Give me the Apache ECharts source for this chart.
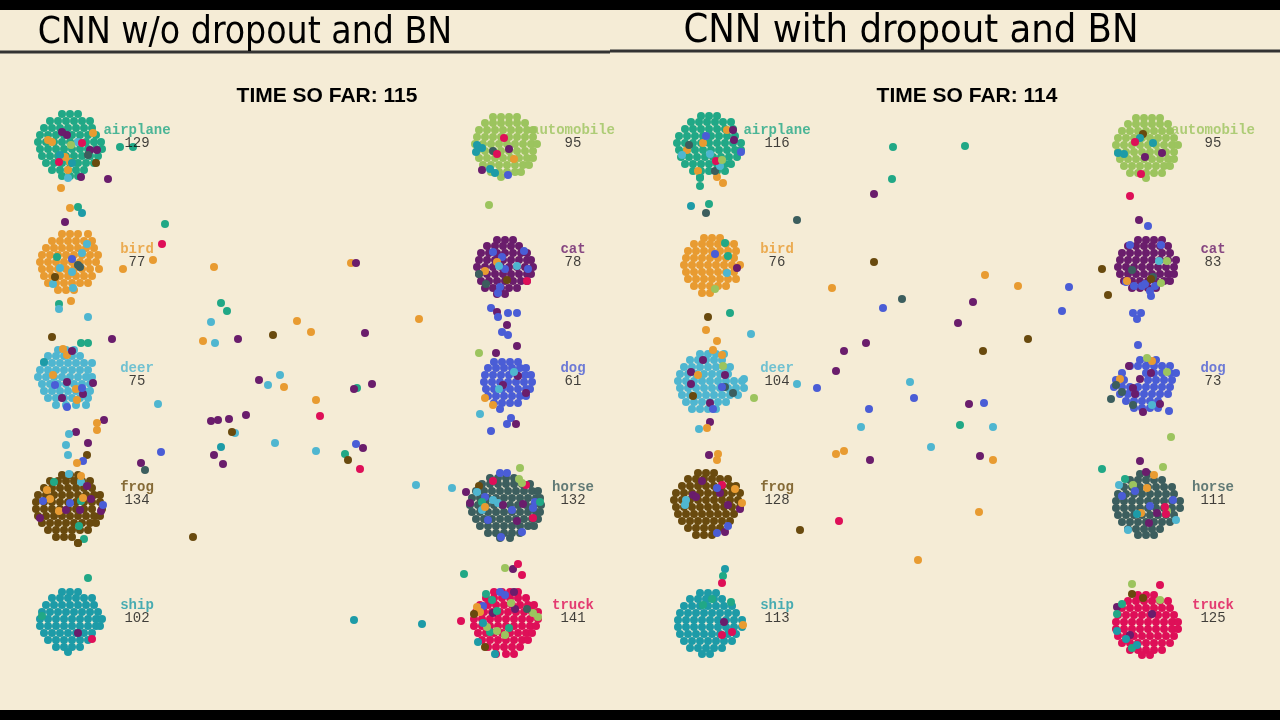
<!DOCTYPE html>
<html>
<head>
<meta charset="utf-8">
<script src="https://cdn.jsdelivr.net/npm/echarts@6/dist/echarts.min.js"></script>
<style>
  html, body { margin: 0; padding: 0; background: #F5ECD6; }
  #chart { width: 1280px; height: 720px; }
</style>
</head>
<body>
<div id="chart"></div>
<script>
// classes and colours
const classes = ['airplane', 'automobile', 'bird', 'cat', 'deer', 'dog', 'frog', 'horse', 'ship', 'truck']
const classColors = ['#21A886', '#9CC45E', '#E89B31', '#6A1D6C', '#4FB6D0', '#4A5DD6', '#694A0E', '#3C5E5E', '#1D9BA7', '#DE0F58']

const panelTitles = ['CNN w/o dropout and BN', 'CNN with dropout and BN']
const timeSoFar = [115, 114]
const countsLeft = [129, 95, 77, 78, 75, 61, 134, 132, 102, 141]
const countsRight = [116, 95, 76, 83, 104, 73, 128, 111, 113, 125]

// cluster cores, one string per class: "y:x x x|y:x x ..."
const coreLeft = [
  '114:62 70 78|121:50 58 66 74 82 90|128:44 52 60 68 76 84 92|135:40 48 56 64 72 80 88 96|142:38 46 54 62 70 78 86 94 101|149:40 48 56 64 72 80 88 96 102|156:42 50 58 66 74 82 90 98|163:46 54 62 70 78 86 94|170:52 60 68 76 84|176:62 70 78',
  '117:493 501 509 517|123:485 493 501 509 517 525|130:479 487 495 503 511 519 527 533|137:477 485 493 501 509 517 525 533|144:475 483 491 499 507 515 523 531 537|151:477 485 493 501 509 517 525 533|158:479 487 495 503 511 519 527 533|165:483 491 499 507 515 523 529|172:491 499 507 515 521|177:501',
  '234:62 70 78 88|241:52 60 68 76 84 92|248:46 54 62 70 78 86 94|255:42 50 58 66 74 82 90 98|262:40 48 56 64 72 80 88 96|269:42 50 58 66 74 82 90 99|276:44 52 60 68 76 84 92|283:48 56 64 72 80 88|290:58 66 74',
  '240:497 505 513|246:487 495 503 511 519|253:481 489 497 505 513 521 527|260:479 487 495 503 511 519 527 531|267:477 485 493 501 509 517 525 533|274:479 487 495 503 511 519 527 531|281:481 489 497 505 513 521 527|288:485 493 501 509 517|294:497 505',
  '350:58 66 74|356:48 56 64 72 80|363:44 52 60 68 76 84 92|370:40 48 56 64 72 80 88|377:38 46 54 62 70 78 86 92|384:42 50 58 66 74 82 90|391:44 52 60 68 76 84 90|398:48 56 64 72 80 88|405:56 66 76 86',
  '362:494 502 510 518|368:488 496 504 512 520 526|375:485 493 501 509 517 525 531|382:484 492 500 508 516 524 532|389:486 494 502 510 518 526 530|396:488 496 504 512 520 526|403:494 502 510 518|409:500',
  '475:62 70 78|481:50 58 66 74 82 90|488:44 52 60 68 76 84 92|495:38 46 54 62 70 78 86 94 100|502:36 44 52 60 68 76 84 92 100|509:36 44 52 60 68 76 84 92 102|516:38 46 54 62 70 78 86 94 100|523:42 50 58 66 74 82 90 96|530:48 56 64 72 80 88|537:56 64 72|543:78',
  '478:490 498 506 514|484:482 490 498 506 514 522 530|491:476 484 492 500 508 516 524 532 538|498:472 480 488 496 504 512 520 528 536 540|505:470 478 486 494 502 510 518 526 534 541|512:472 480 488 496 504 512 520 528 536 540|519:476 484 492 500 508 516 524 532 538|526:480 488 496 504 512 520 528 534|533:488 496 504 512 520|538:500 510',
  '592:62 70 78|598:52 60 68 76 84 92|605:46 54 62 70 78 86 94|612:42 50 58 66 74 82 90 98|619:40 48 56 64 72 80 88 96 102|626:40 48 56 64 72 80 88 96 100|633:44 52 60 68 76 84 92|640:48 56 64 72 80 88|647:56 64 72 80|652:68',
  '592:494 502 510 518|598:486 494 502 510 518 526|605:480 488 496 504 512 520 528 534|612:476 484 492 500 508 516 524 532 538|619:474 482 490 498 506 514 522 530 538|626:474 482 490 498 506 514 522 530 536|633:478 486 494 502 510 518 526 532|640:482 490 498 506 514 522 528|647:488 496 504 512 520|654:496 506 514'
]

// stray / misclassified points: "x,y,class"
const strayLeft = `
48,140,2 52,142,2 65,157,2 70,162,2 93,133,2 68,170,2 67,135,3 62,132,3 90,150,3 97,150,3 81,177,3 108,179,3 60,155,8 72,163,8
68,178,4 78,142,4 71,145,1 82,143,9 59,162,9 96,163,6 88,155,7 120,147,0 133,147,0 61,188,2
70,208,2 78,207,0 82,213,8 65,222,3 165,224,0 162,244,9 153,260,2 123,269,2 214,267,2
87,244,4 82,253,4 60,268,4 72,272,4 53,284,4 73,288,4 57,257,0 72,259,5 80,267,7 55,277,6 78,265,7
59,304,0 59,309,4 71,301,2 88,317,4
63,349,2 67,355,2 53,375,2 76,389,2 77,400,2 72,351,3 93,383,3 83,394,3 62,398,3 67,382,3 44,362,8 81,343,0 88,343,0
55,385,5 82,388,5 67,407,5 52,337,6 112,339,3
158,404,4 104,420,3 76,432,3 97,423,2 97,430,2 69,434,4 66,445,4 68,455,4 88,443,3 87,455,6 83,461,5 77,463,2 161,452,5
141,463,3 145,470,7 211,322,4 203,341,2 215,343,4
69,474,4 81,482,4 54,482,0 81,501,0 79,526,0 84,539,0 81,476,2 47,490,2 50,499,2 59,511,2 83,498,2 87,486,3 91,499,3
66,510,3 80,510,3 101,511,3 40,518,3 43,501,5 103,505,5 70,503,5 78,543,6 193,537,6
88,578,0 42,616,0 92,639,9 78,633,3 354,620,8 422,624,8
477,145,8 482,148,8 476,152,8 490,169,8 495,173,8 493,151,7 497,154,9 504,138,9 509,149,3 482,170,3 514,159,2 508,175,5 489,205,1
493,252,5 524,251,5 502,257,5 505,269,5 528,269,5 498,293,5 500,287,5 497,262,2 485,271,2 517,266,4 499,266,4 479,274,7
486,284,7 507,280,6 527,281,9
518,376,3 503,385,3 526,393,3 514,372,4 499,389,4 485,398,2 493,405,2 491,308,5 497,312,3 498,317,5 508,313,5 517,313,5
507,325,3 502,332,5 508,335,5 517,346,3 496,353,3 479,353,1 480,414,4 511,418,5 507,424,5 516,424,3 491,431,5
500,473,5 507,473,5 535,502,5 533,508,5 488,520,5 501,537,5 522,532,5 512,510,5 485,497,5 493,481,9 526,485,9 533,518,9
479,486,6 452,488,4 477,492,4 493,500,4 498,503,4 482,510,4 466,492,3 470,503,3 503,505,3 523,504,3 517,521,3 540,502,0
482,502,0 485,507,2 520,468,1 519,479,1 522,483,1
500,592,5 505,595,5 483,606,5 514,592,3 515,609,3 493,613,3 486,594,0 492,600,0 497,611,0 490,632,0 509,628,0 477,607,2
480,612,2 474,614,6 485,647,6 511,603,1 533,613,1 538,617,1 497,631,1 505,635,1 487,627,1 478,642,8 495,654,8 483,623,8
527,609,7 505,568,1 513,569,3 518,564,9 522,575,9 464,574,0 461,621,9
221,303,0 227,311,0 238,339,3 273,335,6 297,321,2 311,332,2 419,319,2 365,333,3 351,263,2 356,263,3 259,380,3 280,375,4
268,385,4 284,387,2 316,400,2 320,416,9 357,388,0 354,389,3 372,384,3 211,421,3 218,420,3 229,419,3 246,415,3 235,433,4
232,432,6 221,447,8 214,455,3 223,464,3 275,443,4 316,451,4 356,444,5 363,448,3 345,454,0 348,460,6 360,469,9 416,485,4
`

const coreRight = [
  '116:701 709 717|122:691 699 707 715 723 731|129:685 693 701 709 717 725 733|136:679 687 695 703 711 719 727 735|143:677 685 693 701 709 717 725 733 741|150:679 687 695 703 711 719 727 735 741|157:681 689 697 705 713 721 729 737|164:685 693 701 709 717 725 731|171:693 701 709 717 725|177:700',
  '118:1136 1144 1152 1160|124:1128 1136 1144 1152 1160 1168|131:1122 1130 1138 1146 1154 1162 1170|138:1118 1126 1134 1142 1150 1158 1166 1174|145:1116 1124 1132 1140 1148 1156 1164 1172 1178|152:1118 1126 1134 1142 1150 1158 1166 1174|159:1120 1128 1136 1144 1152 1160 1168 1174|166:1124 1132 1140 1148 1156 1164 1170|173:1130 1138 1146 1154 1162|178:1146',
  '238:704 712 720|244:694 702 710 718 726 734|251:688 696 704 712 720 728 736|258:686 694 702 710 718 726 734|265:684 692 700 708 716 724 732 740|272:686 694 702 710 718 726 734|279:688 696 704 712 720 728 736|286:694 702 710 718 726|293:702 710',
  '240:1138 1146 1154 1162|246:1128 1136 1144 1152 1160 1168|253:1122 1130 1138 1146 1154 1162 1170|260:1120 1128 1136 1144 1152 1160 1168 1176|267:1118 1126 1134 1142 1150 1158 1166 1174|274:1120 1128 1136 1144 1152 1160 1168 1174|281:1124 1132 1140 1148 1156 1164 1170|288:1132 1140 1148 1156',
  '354:700 708 716 724|360:690 698 706 714 722|367:684 692 700 708 716 724 730|374:680 688 696 704 712 720 728|381:678 686 694 702 710 718 726 734 742|388:680 688 696 704 712 720 728 736 744|395:682 690 698 706 714 722 730 738|402:686 694 702 710 718 726|409:692 700 708 716',
  '360:1140 1148 1156|366:1130 1138 1146 1154 1162 1170|373:1122 1146 1154 1162 1170 1176|380:1116 1124 1148 1156 1164 1172|387:1114 1122 1130 1138 1146 1154 1162 1170|394:1120 1128 1136 1144 1152 1160 1168|401:1126 1134 1142 1150 1158|408:1134 1142 1150 1158',
  '473:698 706 714|479:688 696 704 712 720 728|486:682 690 698 706 714 722 730 736|493:676 684 692 700 708 716 724 732 740|500:674 682 690 698 706 714 722 730 738|507:676 684 692 700 708 716 724 732 740|514:678 686 694 702 710 718 726 734|521:682 690 698 706 714 722 730|528:688 696 704 712 720|535:696 704 712',
  '474:1140 1148|480:1130 1138 1146 1154 1162|487:1124 1132 1140 1148 1156 1164 1172|494:1118 1126 1134 1142 1150 1158 1166 1174|501:1116 1124 1132 1140 1148 1156 1164 1172 1180|508:1116 1124 1132 1140 1148 1156 1164 1172 1180|515:1118 1126 1134 1142 1150 1158 1166 1174|522:1122 1130 1138 1146 1154 1162 1170|529:1128 1136 1144 1152 1160|535:1138 1146 1154',
  '593:700 708 716|599:690 698 706 714 722|606:684 692 700 708 716 724 732|613:680 688 696 704 712 720 728 736|620:678 686 694 702 710 718 726 734 742|627:678 686 694 702 710 718 726 734 742|634:680 688 696 704 712 720 728 736|641:684 692 700 708 716 724 732|648:690 698 706 714 722|654:702 710',
  '595:1138 1146 1154|601:1128 1136 1144 1152 1160 1168|608:1122 1130 1138 1146 1154 1162 1170|615:1118 1126 1134 1142 1150 1158 1166 1174|622:1116 1124 1132 1140 1148 1156 1164 1172 1178|629:1116 1124 1132 1140 1148 1156 1164 1172 1178|636:1118 1126 1134 1142 1150 1158 1166 1174|643:1122 1130 1138 1146 1154 1162 1170|650:1130 1138 1146 1154 1162|655:1142 1150'
]

const strayRight = `
727,130,2 703,143,2 687,150,2 698,171,2 717,177,2 723,183,2 733,130,3 734,140,3 741,152,5 706,136,5 689,145,7 715,171,7
682,155,4 710,154,4 720,166,4 716,161,9 722,160,1 700,178,0 700,186,0 691,206,8 709,204,0 706,213,7 797,220,7
725,243,0 728,256,0 715,254,5 737,268,3 727,273,4 715,289,1 832,288,2
703,360,3 691,372,3 691,384,3 725,375,3 710,403,3 710,422,3 698,375,2 722,355,2 717,341,2 713,350,2 706,330,2 707,428,2
718,454,2 717,460,2 723,366,1 754,398,1 725,387,7 733,393,7 693,396,6 708,317,6 713,409,5 722,387,5 744,379,4 751,334,4
699,429,4 797,384,4 817,388,5 730,313,0 709,455,3
722,485,9 702,481,3 693,495,3 696,497,3 720,493,3 728,505,3 740,509,3 725,532,3 717,488,5 728,526,5 717,533,5 735,489,2
742,503,2 686,500,4 685,505,4 800,530,6 839,521,9
703,605,0 712,599,0 731,602,0 743,625,2 732,632,9 722,635,9 724,622,3 725,569,8 723,576,0 722,583,9
1143,134,6 1140,138,8 1153,143,8 1118,153,8 1124,154,8 1135,142,9 1141,174,9 1162,153,3 1145,157,3 1130,196,9
1130,245,5 1161,245,5 1126,282,5 1134,286,5 1142,286,5 1150,291,5 1145,284,5 1151,296,5 1155,286,5 1159,261,4 1167,261,1
1161,283,1 1132,270,7 1153,277,7 1151,279,6 1127,281,2 1139,220,3 1148,226,5 1102,269,6 1108,295,6 1133,313,5 1141,313,5
1137,319,5
1129,366,3 1140,379,3 1151,373,3 1133,388,3 1135,394,3 1160,404,3 1143,412,3 1120,379,2 1152,361,2 1147,358,1 1167,372,1
1116,385,7 1122,392,7 1111,399,7 1133,405,7 1152,405,4 1138,345,5 1169,411,5 1171,437,1
1140,461,3 1146,472,3 1157,513,3 1149,523,3 1125,479,0 1102,469,0 1163,467,1 1133,485,1 1167,511,1 1154,475,2 1147,488,2
1141,513,2 1119,485,4 1176,520,4 1128,530,4 1122,496,5 1135,491,5 1150,506,5 1173,500,5 1165,507,9 1166,514,9 1137,514,8
1132,584,1 1160,600,1 1160,585,9 1132,594,6 1143,598,6 1117,607,3 1152,614,3 1130,635,3 1122,604,0 1117,614,0 1132,648,0
1117,631,8 1126,639,8 1137,645,8
893,147,0 965,146,0 892,179,0 874,194,3 874,262,6 985,275,2 1018,286,2 1069,287,5 1062,311,5 902,299,7 883,308,5 973,302,3
958,323,3 1028,339,6 983,351,6 866,343,3 844,351,3 836,371,3 910,382,4 914,398,5 869,409,5 969,404,3 984,403,5 960,425,0
993,427,4 861,427,4 931,447,4 836,454,2 844,451,2 993,460,2 870,460,3 980,456,3 979,512,2 918,560,2
`

// label layout: columns per panel, row centres
const labelColX = [[137, 573], [777, 1213]]
const labelRowY = [136.5, 255.5, 374.5, 493.5, 611.5]

const parseCore = list => {
    const out = []
    list.forEach((s, c) => {
        s.split('|').forEach(row => {
            const [y, xs] = row.split(':')
            xs.trim().split(/\s+/).forEach(x => out.push([+x, +y, c]))
        })
    })
    return out
}
const parseStray = s => s.trim().split(/\s+/).map(t => t.split(',').map(Number))

const pointsLeft = parseCore(coreLeft).concat(parseStray(strayLeft))
const pointsRight = parseCore(coreRight).concat(parseStray(strayRight))

const dotSeries = (data, idx) => ({
    type: 'scatter',
    xAxisIndex: idx,
    yAxisIndex: idx,
    data: data,
    symbolSize: 8,
    silent: true,
    itemStyle: {
        color: p => classColors[p.data[2]],
        opacity: 1
    },
    z: 2
})

const labelSeries = (counts, idx) => ({
    type: 'scatter',
    xAxisIndex: idx,
    yAxisIndex: idx,
    symbolSize: 0,
    silent: true,
    z: 5,
    data: classes.map((name, c) => ({
        value: [labelColX[idx][c % 2], labelRowY[Math.floor(c / 2)]],
        label: {
            show: true,
            position: 'inside',
            formatter: '{n|' + name + '}\n{c|' + counts[c] + '}',
            rich: {
                n: { color: classColors[c], fontFamily: 'Liberation Mono', fontWeight: 'bold', fontSize: 14, lineHeight: 13 },
                c: { color: '#111', fontFamily: 'Liberation Mono', fontSize: 14, lineHeight: 13 }
            }
        }
    }))
})

const chart = echarts.init(document.getElementById('chart'))

const option = {
    backgroundColor: '#F5ECD6',
    animation: false,
    grid: [
        { left: 0, top: 0, width: 640, height: 720 },
        { left: 640, top: 0, width: 640, height: 720 }
    ],
    xAxis: [
        { type: 'value', gridIndex: 0, min: 0, max: 640, show: false },
        { type: 'value', gridIndex: 1, min: 640, max: 1280, show: false }
    ],
    yAxis: [
        { type: 'value', gridIndex: 0, min: 0, max: 720, inverse: true, show: false },
        { type: 'value', gridIndex: 1, min: 0, max: 720, inverse: true, show: false }
    ],
    series: [
        dotSeries(pointsLeft, 0),
        dotSeries(pointsRight, 1),
        labelSeries(countsLeft, 0),
        labelSeries(countsRight, 1)
    ],
    graphic: [
        // letterbox bars
        { type: 'rect', shape: { x: 0, y: 0, width: 1280, height: 10 }, style: { fill: '#000' } },
        { type: 'rect', shape: { x: 0, y: 710, width: 1280, height: 10 }, style: { fill: '#000' } },
        // rules under the titles
        { type: 'line', shape: { x1: 0, y1: 52, x2: 610, y2: 52 }, style: { stroke: '#333', lineWidth: 3 } },
        { type: 'line', shape: { x1: 610, y1: 51, x2: 1280, y2: 51 }, style: { stroke: '#333', lineWidth: 3 } },
        {
            type: 'text', x: 245, y: 33,
            style: { text: panelTitles[0], fill: '#000', font: '37px "DejaVu Sans Condensed", "DejaVu Sans"', textAlign: 'center', textVerticalAlign: 'middle' }
        },
        {
            type: 'text', x: 911, y: 32,
            style: { text: panelTitles[1], fill: '#000', font: '39.5px "DejaVu Sans Condensed", "DejaVu Sans"', textAlign: 'center', textVerticalAlign: 'middle' }
        },
        {
            type: 'text', x: 327, y: 96,
            style: { text: 'TIME SO FAR: ' + timeSoFar[0], fill: '#000', font: 'bold 21px "Liberation Sans", Arial', textAlign: 'center', textVerticalAlign: 'middle' }
        },
        {
            type: 'text', x: 967, y: 96,
            style: { text: 'TIME SO FAR: ' + timeSoFar[1], fill: '#000', font: 'bold 21px "Liberation Sans", Arial', textAlign: 'center', textVerticalAlign: 'middle' }
        }
    ]
}

chart.setOption(option)
</script>
</body>
</html>
